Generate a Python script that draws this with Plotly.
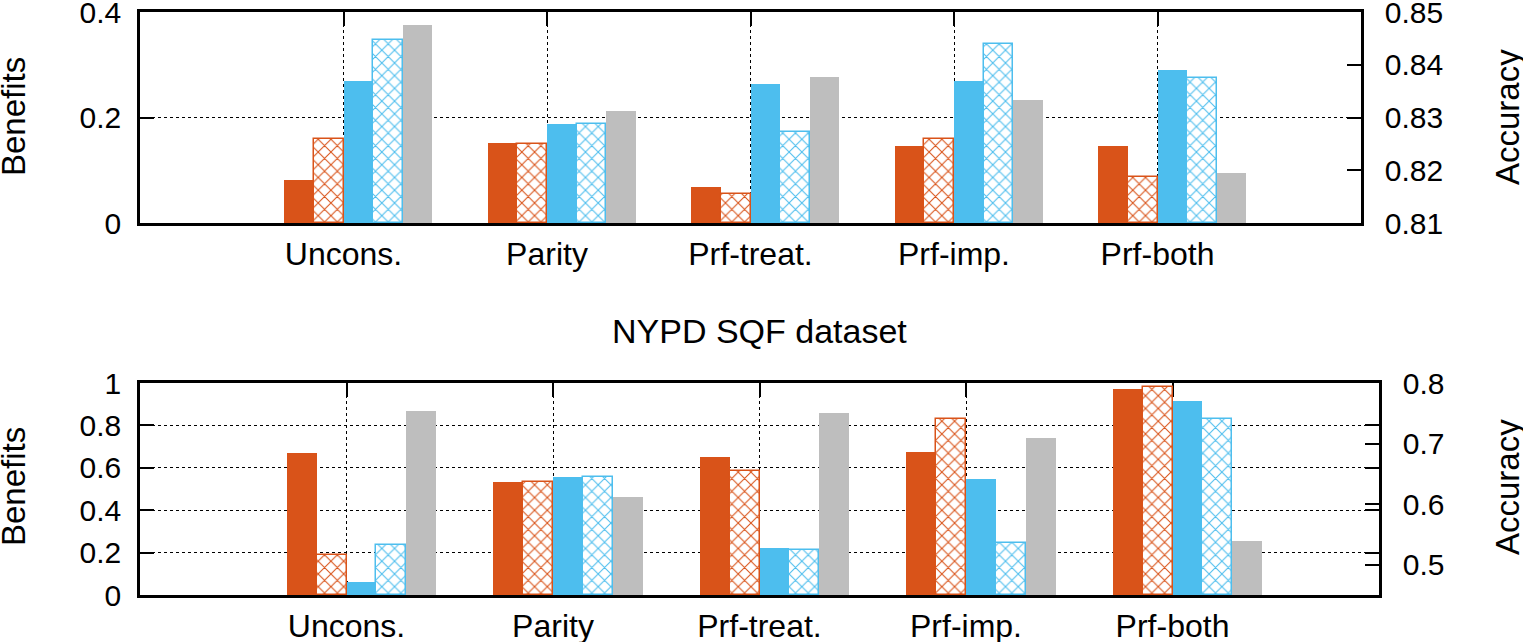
import plotly.graph_objects as go
from plotly.subplots import make_subplots

# categories (shared by both panels)
categories = ["Uncons.", "Parity", "Prf-treat.", "Prf-imp.", "Prf-both"]

# top panel: benefits (left axis) and accuracy (right axis)
top_orange_solid = [0.082, 0.152, 0.068, 0.146, 0.146]
top_orange_hatch = [0.160, 0.150, 0.055, 0.160, 0.087]
top_blue_solid = [0.270, 0.188, 0.264, 0.270, 0.290]
top_blue_hatch = [0.347, 0.187, 0.172, 0.339, 0.275]
top_accuracy = [0.8476, 0.8313, 0.8377, 0.8334, 0.8195]

# bottom panel: NYPD SQF dataset
nypd_orange_solid = [0.668, 0.535, 0.649, 0.674, 0.970]
nypd_orange_hatch = [0.187, 0.532, 0.587, 0.831, 0.979]
nypd_blue_solid = [0.063, 0.557, 0.222, 0.549, 0.913]
nypd_blue_hatch = [0.236, 0.557, 0.212, 0.244, 0.831]
nypd_accuracy = [0.7535, 0.611, 0.750, 0.710, 0.539]

ORANGE = "#D95319"
BLUE = "#4DBEEE"
GRAY = "#BEBEBE"
FONT = "Liberation Sans, Arial, sans-serif"
BW = 0.145  # bar width in category units


def solid(y, color, off):
    return go.Bar(x=categories, y=y, width=BW, offset=off,
                  marker=dict(color=color, line=dict(width=0)), showlegend=False)


def hatched(y, color, off):
    return go.Bar(x=categories, y=y, width=BW, offset=off, showlegend=False,
                  marker=dict(color="white", line=dict(color=color, width=1.5),
                              pattern=dict(shape="x", fgcolor=color, bgcolor="white",
                                           size=9, solidity=0.22, fillmode="replace")))


fig = make_subplots(rows=2, cols=1,
                    specs=[[{"secondary_y": True}], [{"secondary_y": True}]])

panels = [
    (1, top_orange_solid, top_orange_hatch, top_blue_solid, top_blue_hatch, top_accuracy),
    (2, nypd_orange_solid, nypd_orange_hatch, nypd_blue_solid, nypd_blue_hatch, nypd_accuracy),
]
for row, os_, oh, bs, bh, acc in panels:
    fig.add_trace(solid(os_, ORANGE, -2 * BW), row=row, col=1, secondary_y=False)
    fig.add_trace(hatched(oh, ORANGE, -BW), row=row, col=1, secondary_y=False)
    fig.add_trace(solid(bs, BLUE, 0), row=row, col=1, secondary_y=False)
    fig.add_trace(hatched(bh, BLUE, BW), row=row, col=1, secondary_y=False)
    fig.add_trace(solid(acc, GRAY, 2 * BW), row=row, col=1, secondary_y=True)

W, H = 1523, 642
L, R, T, B = 140, 144, 12, 47
pw, ph = W - L - R, H - T - B

tickfont = dict(family=FONT, size=30, color="black")
xaxis_style = dict(type="category", range=[-1, 5], showline=True, linewidth=2.5,
                   linecolor="black", mirror="ticks", ticks="inside", ticklen=14,
                   tickwidth=1.5, tickcolor="black", showgrid=True, gridcolor="black",
                   griddash="dot", gridwidth=0.8, layer="below traces",
                   tickfont=dict(family=FONT, size=32, color="black"),
                   ticklabelstandoff=1, ticklabeloverflow="allow")
yleft_style = dict(showline=True, linewidth=2.5, linecolor="black", mirror="ticks",
                   ticks="inside", ticklen=14, tickwidth=1.5, tickcolor="black",
                   showgrid=True, gridcolor="black", griddash="dot", gridwidth=0.8,
                   zeroline=False, tickfont=tickfont, ticklabelstandoff=10,
                   ticklabeloverflow="allow")
yright_style = dict(showline=True, linewidth=2.5, linecolor="black", ticks="inside",
                    ticklen=14, tickwidth=1.5, tickcolor="black", showgrid=False,
                    zeroline=False, tickfont=tickfont, ticklabelstandoff=15,
                    ticklabeloverflow="allow")

top_lo = (H - B - 223) / ph
bot_hi = (H - B - 383) / ph
fig.update_layout(
    width=W, height=H, barmode="overlay", bargap=0,
    margin=dict(l=L, r=R, t=T, b=B, autoexpand=False),
    paper_bgcolor="white", plot_bgcolor="white",
    font=dict(family=FONT, color="black"),
    xaxis=dict(xaxis_style, domain=[0, (1361 - L) / pw]),
    xaxis2=dict(xaxis_style, domain=[0, 1]),
    yaxis=dict(yleft_style, range=[0, 0.4], tickvals=[0, 0.2, 0.4], ticktext=["0", "0.2", "0.4"],
               domain=[top_lo, 1]),
    yaxis2=dict(yright_style, range=[0.81, 0.85], dtick=0.01, tickformat=".2f"),
    yaxis3=dict(yleft_style, range=[0, 1], dtick=0.2, domain=[0, bot_hi]),
    yaxis4=dict(yright_style, range=[0.45, 0.8], tickvals=[0.5, 0.6, 0.7, 0.8]),
)

label_font = dict(family=FONT, size=33, color="black")
for yc in [(H - B - 117) / ph, (H - B - 487) / ph]:
    fig.add_annotation(text="Benefits", xref="paper", yref="paper", x=(13 - L) / pw, y=yc,
                       textangle=-90, showarrow=False, font=label_font,
                       xanchor="center", yanchor="middle")
    fig.add_annotation(text="Accuracy", xref="paper", yref="paper", x=(1507 - L) / pw, y=yc,
                       textangle=-90, showarrow=False, font=label_font,
                       xanchor="center", yanchor="middle")

fig.add_annotation(text="NYPD SQF dataset", xref="paper", yref="paper", x=0.5,
                   y=(H - B - 331) / ph, showarrow=False, xanchor="center", yanchor="middle",
                   font=dict(family=FONT, size=34, color="black"))

# drop the default page margin so the figure sits at the window's corner
fig.write_html("out.html", config={"displayModeBar": False},
               post_script="document.body.style.margin='0';")
